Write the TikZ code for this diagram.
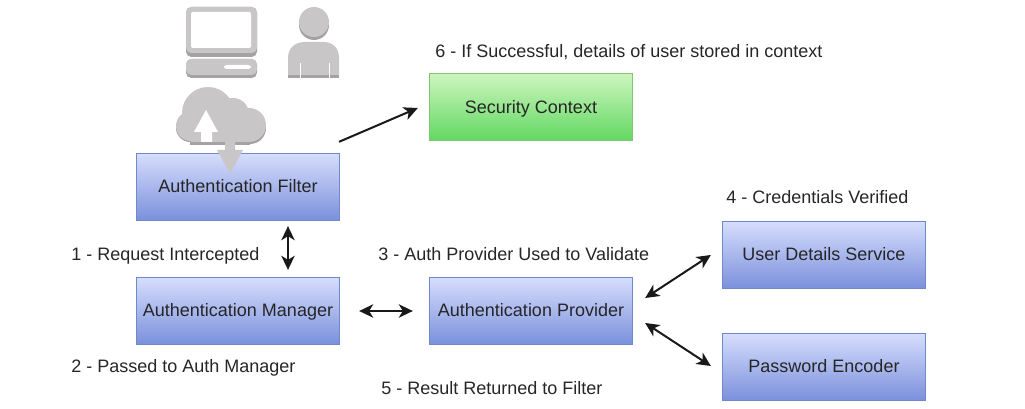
\documentclass[tikz,border=0pt]{standalone}
\usepackage{fontspec}
\setmainfont{Liberation Sans}
\usetikzlibrary{arrows.meta}
\definecolor{boxline}{HTML}{6F8AC8}
\definecolor{bluetop}{HTML}{D6DDFC}
\definecolor{bluebot}{HTML}{7A90DC}
\definecolor{greenline}{HTML}{82C472}
\definecolor{greentop}{HTML}{CDF5BE}
\definecolor{greenbot}{HTML}{62D862}
\definecolor{icongrey}{HTML}{C9C6C7}
\definecolor{icondark}{HTML}{A5A2A3}
\tikzset{
  bluebox/.style={draw=boxline,line width=0.75pt,top color=bluetop,bottom color=bluebot,minimum width=152.5pt,minimum height=50.5pt,inner sep=0pt,text=black!85,text height=9.7pt,text depth=1.5pt,font=\fontsize{13.5}{16}\selectfont},
  greenbox/.style={bluebox,draw=greenline,top color=greentop,bottom color=greenbot,text depth=0pt},
  steptext/.style={anchor=west,inner sep=0pt,text=black!85,text height=9.7pt,text depth=0pt,font=\fontsize{13.5}{16}\selectfont},
  biarrow/.style={{Stealth[length=10.5pt,width=10pt,inset=3pt]}-{Stealth[length=10.5pt,width=10pt,inset=3pt]},line width=1.5pt,color=black!90},
  onearrow/.style={-{Stealth[length=10.5pt,width=10pt,inset=3pt]},line width=1.5pt,color=black!90}
}
\begin{document}
\begin{tikzpicture}[x=0.75pt,y=0.75pt,yscale=-1,xscale=1]
\useasboundingbox (0,0) rectangle (1025,409);

%Boxes
\node (filter) [bluebox] at (238,187) {Authentication Filter};
\node (manager) [bluebox] at (238,311) {Authentication Manager};
\node (provider) [bluebox] at (531,311) {Authentication Provider};
\node (context) [greenbox] at (531,107) {Security Context};
\node (details) [bluebox] at (824,255) {User Details Service};
\node (encoder) [bluebox] at (824,367) {Password Encoder};

%Computer
\draw [fill=icondark,draw=none,rounded corners=4pt] (186,7) rectangle (257,57);
\draw [fill=icongrey,draw=none,rounded corners=4pt] (186,7) rectangle (257,53);
\fill [white,rounded corners=1pt] (191,12) rectangle (251,48);
\draw [fill=icondark,draw=none,rounded corners=4pt] (186,59) rectangle (257,78);
\draw [fill=icongrey,draw=none,rounded corners=4pt] (186,59) rectangle (257,75);
\fill [white,rounded corners=2pt] (224,65) rectangle (251,69);

%User
\fill [icondark] (314,25) circle [radius=15];
\fill [icongrey] (314,22) circle [radius=15];
\fill [icongrey] (288,78) -- (288,58) .. controls (288,48) and (295,42) .. (305,42) -- (323,42) .. controls (333,42) and (339,48) .. (339,58) -- (339,78) -- cycle;
\fill [icondark] (288,75) rectangle (339,78);
\draw [white,line width=0.75pt] (300,63) -- (300,78) (329,63) -- (329,78);

%Cloud
\fill [icondark] (190,128) circle [radius=14];
\fill [icondark] (250,128) circle [radius=16];
\fill [icondark] (190,131) rectangle (250,145);
\fill [icongrey] (208,113) circle [radius=26];
\fill [icongrey] (233,114) circle [radius=16];
\fill [icongrey] (249,125) circle [radius=17];
\fill [icongrey] (191,126) circle [radius=15];
\fill [icongrey] (191,118) rectangle (249,142);
\fill [white] (206,110) -- (218,132) -- (212,132) -- (212,142) -- (201,142) -- (201,132) -- (194,132) -- cycle;
\fill [icongrey] (225,140) -- (235,140) -- (235,150) -- (243,150) -- (230,174) -- (217,150) -- (225,150) -- cycle;

%Arrows
\draw [biarrow] ([shift={(50,5)}]filter.south) -- ([shift={(50,-7)}]manager.north);
\draw [biarrow] ([shift={(19,0)}]manager.east) -- ([shift={(-16,0)}]provider.west);
\draw [biarrow] ([shift={(12,-13)}]provider.east) -- ([shift={(-11,0)}]details.west);
\draw [biarrow] ([shift={(12,12)}]provider.east) -- ([shift={(-11,-1)}]encoder.west);
\draw [onearrow] ([shift={(101,-11)}]filter.north) -- ([shift={(-11,1)}]context.west);

% Text Node
\node (stepone) [steptext] at (71,254) {1 - Request Intercepted};
\node (steptwo) [steptext] at (71,366) {2 - Passed to Auth Manager};
\node (stepthree) [steptext] at (378,254) {3 - Auth Provider Used to Validate};
\node (stepfour) [steptext] at (726,197) {4 - Credentials Verified};
\node (stepfive) [steptext] at (381,388) {5 - Result Returned to Filter};
\node (stepsix) [steptext] at (435,51) {6 - If Successful, details of user stored in context};
\end{tikzpicture}
\end{document}
